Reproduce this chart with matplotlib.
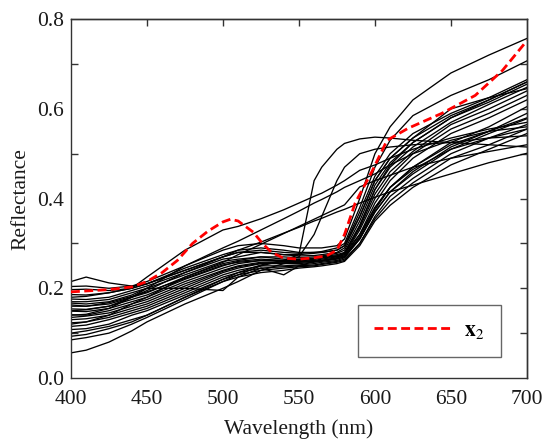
import numpy as np
import matplotlib
matplotlib.use('Agg')
import matplotlib.pyplot as plt

plt.rcParams['font.family'] = ['Liberation Serif', 'DejaVu Serif']
plt.rcParams['mathtext.fontset'] = 'stix'

# wavelength grid for the black spectra
wl = [400, 410, 425, 440, 450, 475, 500, 510, 525, 540, 550, 560, 565, 575, 580, 590, 600, 610, 625, 650, 675, 700]

# black spectra
n01 = [0.215, 0.225, 0.212, 0.205, 0.210, 0.240, 0.270, 0.280, 0.280, 0.275, 0.275, 0.278, 0.280, 0.285, 0.295, 0.360, 0.440, 0.490, 0.535, 0.60, 0.625, 0.645]
n02 = [0.204, 0.205, 0.200, 0.205, 0.215, 0.250, 0.285, 0.295, 0.300, 0.295, 0.290, 0.290, 0.290, 0.295, 0.310, 0.400, 0.500, 0.560, 0.620, 0.68, 0.720, 0.757]
n03 = [0.197, 0.198, 0.195, 0.200, 0.210, 0.245, 0.275, 0.285, 0.290, 0.285, 0.280, 0.280, 0.282, 0.290, 0.300, 0.380, 0.470, 0.530, 0.585, 0.63, 0.665, 0.707]
n04 = [0.186, 0.185, 0.190, 0.200, 0.210, 0.240, 0.270, 0.280, 0.285, 0.280, 0.278, 0.280, 0.280, 0.285, 0.295, 0.370, 0.450, 0.500, 0.545, 0.59, 0.625, 0.665]
n05 = [0.176, 0.175, 0.180, 0.195, 0.205, 0.235, 0.265, 0.270, 0.280, 0.275, 0.272, 0.273, 0.275, 0.280, 0.290, 0.360, 0.440, 0.490, 0.535, 0.585, 0.62, 0.660]
n06 = [0.167, 0.165, 0.170, 0.185, 0.200, 0.230, 0.260, 0.265, 0.270, 0.270, 0.268, 0.270, 0.272, 0.278, 0.285, 0.350, 0.430, 0.480, 0.525, 0.58, 0.615, 0.655]
n07 = [0.160, 0.160, 0.165, 0.180, 0.190, 0.225, 0.255, 0.262, 0.270, 0.265, 0.265, 0.267, 0.270, 0.275, 0.280, 0.340, 0.420, 0.470, 0.515, 0.57, 0.61, 0.648]
n08 = [0.154, 0.153, 0.160, 0.175, 0.185, 0.220, 0.250, 0.260, 0.265, 0.262, 0.262, 0.265, 0.268, 0.272, 0.278, 0.335, 0.410, 0.460, 0.505, 0.565, 0.60, 0.640]
n09 = [0.149, 0.148, 0.155, 0.170, 0.180, 0.215, 0.245, 0.255, 0.262, 0.260, 0.260, 0.262, 0.265, 0.270, 0.275, 0.330, 0.400, 0.450, 0.500, 0.555, 0.59, 0.630]
n10 = [0.141, 0.140, 0.150, 0.165, 0.175, 0.210, 0.240, 0.250, 0.258, 0.258, 0.258, 0.260, 0.262, 0.268, 0.272, 0.320, 0.390, 0.440, 0.490, 0.545, 0.58, 0.620]
n11 = [0.130, 0.132, 0.140, 0.155, 0.165, 0.200, 0.235, 0.245, 0.255, 0.255, 0.255, 0.258, 0.260, 0.265, 0.270, 0.315, 0.380, 0.425, 0.470, 0.525, 0.56, 0.605]
n12 = [0.123, 0.125, 0.135, 0.150, 0.160, 0.195, 0.230, 0.240, 0.250, 0.250, 0.252, 0.255, 0.258, 0.262, 0.268, 0.310, 0.370, 0.415, 0.455, 0.51, 0.545, 0.578]
n13 = [0.115, 0.118, 0.130, 0.145, 0.155, 0.190, 0.225, 0.235, 0.245, 0.248, 0.250, 0.252, 0.255, 0.260, 0.265, 0.300, 0.360, 0.405, 0.445, 0.50, 0.535, 0.565]
n14 = [0.108, 0.110, 0.120, 0.140, 0.150, 0.185, 0.220, 0.230, 0.240, 0.245, 0.248, 0.250, 0.253, 0.258, 0.262, 0.300, 0.355, 0.395, 0.435, 0.49, 0.52, 0.555]
n15 = [0.100, 0.105, 0.115, 0.130, 0.140, 0.180, 0.215, 0.225, 0.235, 0.240, 0.245, 0.248, 0.250, 0.255, 0.260, 0.295, 0.350, 0.385, 0.425, 0.475, 0.51, 0.545]
n16 = [0.170, 0.170, 0.175, 0.190, 0.200, 0.200, 0.195, 0.225, 0.245, 0.230, 0.250, 0.260, 0.262, 0.268, 0.275, 0.310, 0.375, 0.425, 0.470, 0.52, 0.55, 0.580]
n17 = [0.163, 0.160, 0.168, 0.182, 0.192, 0.222, 0.252, 0.258, 0.262, 0.262, 0.264, 0.266, 0.268, 0.272, 0.278, 0.340, 0.420, 0.475, 0.525, 0.58, 0.62, 0.660]
n18 = [0.135, 0.138, 0.145, 0.160, 0.170, 0.205, 0.238, 0.248, 0.256, 0.256, 0.258, 0.260, 0.262, 0.266, 0.270, 0.310, 0.370, 0.415, 0.460, 0.515, 0.55, 0.590]
s01 = [0.180, 0.182, 0.190, 0.200, 0.225, 0.285, 0.330, 0.338, 0.355, 0.375, 0.390, 0.405, 0.412, 0.430, 0.440, 0.463, 0.475, 0.490, 0.510, 0.535, 0.555, 0.570]
s02 = [0.150, 0.152, 0.160, 0.180, 0.200, 0.250, 0.290, 0.305, 0.330, 0.355, 0.372, 0.390, 0.398, 0.415, 0.425, 0.440, 0.455, 0.475, 0.500, 0.530, 0.550, 0.560]
s03 = [0.140, 0.142, 0.155, 0.180, 0.195, 0.235, 0.270, 0.285, 0.303, 0.323, 0.336, 0.350, 0.356, 0.370, 0.376, 0.390, 0.403, 0.415, 0.430, 0.455, 0.480, 0.501]
s04 = [0.120, 0.125, 0.140, 0.165, 0.180, 0.225, 0.258, 0.275, 0.298, 0.322, 0.338, 0.354, 0.362, 0.378, 0.386, 0.426, 0.440, 0.452, 0.470, 0.490, 0.505, 0.520]
l01 = [0.056, 0.062, 0.080, 0.105, 0.125, 0.165, 0.200, 0.215, 0.240, 0.255, 0.260, 0.265, 0.268, 0.272, 0.278, 0.320, 0.380, 0.425, 0.465, 0.51, 0.535, 0.555]
r01 = [0.085, 0.090, 0.100, 0.120, 0.135, 0.175, 0.215, 0.230, 0.250, 0.262, 0.275, 0.440, 0.470, 0.510, 0.523, 0.533, 0.537, 0.535, 0.530, 0.525, 0.520, 0.515]
r02 = [0.093, 0.097, 0.110, 0.125, 0.140, 0.180, 0.220, 0.235, 0.252, 0.262, 0.270, 0.320, 0.360, 0.440, 0.470, 0.500, 0.510, 0.515, 0.520, 0.525, 0.535, 0.540]

black = [n01, n02, n03, n04, n05, n06, n07, n08, n09, n10, n11, n12, n13, n14, n15,
         n16, n17, n18, s01, s02, s03, s04, l01, r01, r02]

# the highlighted sample x2
wl_x2 = [400, 410, 425, 440, 450, 460, 470, 480, 490, 500, 505, 510, 520, 526, 532, 540, 550, 560,
         568, 575, 580, 587, 598, 608, 622, 644, 666, 684, 700]
x2 = [0.192, 0.194, 0.197, 0.203, 0.215, 0.235, 0.262, 0.300, 0.327, 0.348, 0.354, 0.350, 0.325, 0.300,
      0.280, 0.267, 0.265, 0.268, 0.272, 0.285, 0.320, 0.390, 0.460, 0.530, 0.557, 0.590, 0.630, 0.686, 0.752]

fig = plt.figure(figsize=(5.5, 4.46), dpi=100)
ax = fig.add_axes([0.129, 0.1525, 0.829, 0.8045])

for y in black:
    ax.plot(wl, y, color='black', lw=0.95, zorder=2)
ax.plot(wl_x2, x2, color='#ff0000', lw=2.0, dashes=(3.2, 1.6), zorder=3, label=r'$\mathbf{x}_{2}$')

ax.set_xlim(400, 700)
ax.set_ylim(0, 0.8)
ax.set_xticks(np.arange(400, 701, 50))
ax.set_yticks(np.arange(0, 0.81, 0.2))
ax.set_yticklabels(['0.0', '0.2', '0.4', '0.6', '0.8'])
ax.set_xticks(np.arange(450, 700, 100), minor=True)
ax.set_yticks(np.arange(0.1, 0.8, 0.2), minor=True)
ax.tick_params(which='major', length=0, labelsize=15.5, colors='#1a1a1a')
ax.tick_params(axis='x', which='major', pad=9)
ax.tick_params(axis='y', which='major', pad=5)
ax.tick_params(which='minor', direction='in', length=5, width=1, color='#333333')

top = ax.secondary_xaxis('top')
top.set_xticks(np.arange(450, 700, 50))
top.tick_params(direction='in', length=5, width=1, color='#333333', labeltop=False)
right = ax.secondary_yaxis('right')
right.set_yticks(np.arange(0.1, 0.8, 0.1))
right.tick_params(direction='in', length=5, width=1, color='#333333', labelright=False)

for sp in list(ax.spines.values()) + [top.spines['top'], right.spines['right']]:
    sp.set_color('#333333')
    sp.set_linewidth(1.0)

ax.set_xlabel('Wavelength (nm)', fontsize=15.5, color='#1a1a1a', labelpad=7)
ax.set_ylabel('Reflectance', fontsize=15.5, color='#1a1a1a', labelpad=5)

leg = ax.legend(loc='lower right', bbox_to_anchor=(0.966, 0.028), fontsize=15.5,
                handlelength=3.7, handletextpad=0.5, borderpad=0.75,
                fancybox=False, framealpha=1, edgecolor='#666666')
leg.get_frame().set_linewidth(1.0)

fig.savefig('out.png', dpi=100)
